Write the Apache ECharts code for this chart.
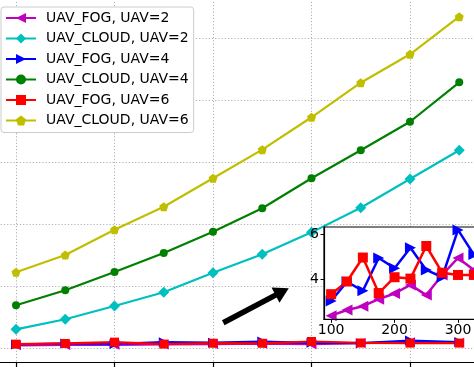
<!DOCTYPE html>
<html><head><meta charset="utf-8">
<script src="https://cdn.jsdelivr.net/npm/echarts@6/dist/echarts.min.js"></script>
<style>html,body{margin:0;padding:0;background:#fff}#c{width:474px;height:367px}</style>
</head><body><div id="c"></div>
<script>
// ---- data ----
const xValues = [100, 125, 150, 175, 200, 225, 250, 275, 300, 325];
const fogUav2   = [2.40, 2.65, 2.82, 3.13, 3.38, 3.76, 3.31, 4.20, 4.95, 4.42];
const cloudUav2 = [15.3, 23.4, 34.1, 45.2, 61.0, 75.8, 93.5, 113.4, 136.5, 159.7];
const fogUav4   = [3.05, 3.90, 3.50, 4.95, 4.50, 5.40, 4.42, 4.10, 6.19, 5.10];
const cloudUav4 = [34.7, 46.8, 61.5, 76.9, 94.0, 112.9, 137.1, 159.7, 182.7, 214.5];
const fogUav6   = [3.35, 3.91, 4.97, 3.40, 4.10, 4.04, 5.48, 4.30, 4.20, 4.20];
const cloudUav6 = [61.3, 75.2, 95.6, 114.2, 137.1, 160.2, 186.3, 214.2, 237.1, 267.4];
const seriesNames = ['UAV_FOG, UAV=2', 'UAV_CLOUD, UAV=2', 'UAV_FOG, UAV=4',
                     'UAV_CLOUD, UAV=4', 'UAV_FOG, UAV=6', 'UAV_CLOUD, UAV=6'];
const insetXTicks = [100, 200, 300];
const insetYTicks = [4, 6];
const arrowFrom = [205.2, 20.6];
const arrowTo = [235.1, 45.7];

// ---- styles ----
const FONT = 'DejaVu Sans';
const pentagon = 'path://M0,-1L0.951,-0.309L0.588,0.809L-0.588,0.809L-0.951,-0.309Z';
const styles = [
  {color: '#bf00bf', symbol: 'triangle', rot: 90, size: 10},
  {color: '#00bfbf', symbol: 'diamond', rot: 0, size: 11},
  {color: '#0000ff', symbol: 'triangle', rot: -90, size: 10},
  {color: '#008000', symbol: 'circle', rot: 0, size: 8},
  {color: '#ff0000', symbol: 'rect', rot: 0, size: 9},
  {color: '#bfbf00', symbol: pentagon, rot: 0, size: 9}
];
const allData = [fogUav2, cloudUav2, fogUav4, cloudUav4, fogUav6, cloudUav6];
const pairs = arr => xValues.map((x, i) => [x, arr[i]]);

function mk(i, xi, yi, z, extra) {
  const s = styles[i];
  return Object.assign({
    name: seriesNames[i], type: 'line', xAxisIndex: xi, yAxisIndex: yi, z: z,
    data: pairs(allData[i]), symbol: s.symbol, symbolRotate: s.rot, symbolSize: s.size,
    showAllSymbol: true,
    lineStyle: {color: s.color, width: 2.2}, itemStyle: {color: s.color},
    emphasis: {disabled: true}, animation: false
  }, extra || {});
}

const series = [];
for (let i = 0; i < 6; i++) {
  const extra = {};
  if (i === 5) {
    extra.markLine = {
      silent: true, symbol: ['none', 'triangle'], symbolSize: [17, 15],
      label: {show: false},
      lineStyle: {color: '#000', width: 5.5, type: 'solid'},
      data: [[{coord: arrowFrom}, {coord: arrowTo}]]
    };
  }
  series.push(mk(i, 0, 0, 2, extra));
}
[0, 2, 4].forEach(i => series.push(mk(i, 2, 2, 11, {clip: true, symbolSize: styles[i].size + 1, lineStyle: {color: styles[i].color, width: 2.5}})));

const dotted = {show: true, lineStyle: {color: '#b0b0b0', type: [1.2, 2], width: 1}};

const option = {
  animation: false,
  backgroundColor: '#fff',
  textStyle: {fontFamily: FONT},
  grid: [
    {left: -82.5, right: -34.5, top: -23.7, bottom: -43.3, containLabel: false, outerBoundsMode: 'none'},
    {left: -82.5, right: -34.5, top: 0, bottom: 5, containLabel: false, outerBoundsMode: 'none'},
    {left: 324, right: -7, top: 227, bottom: 47.7, containLabel: false, outerBoundsMode: 'none', z: 10,
     show: true, backgroundColor: '#fff', borderColor: '#000', borderWidth: 1.2}
  ],
  xAxis: [
    {type: 'value', gridIndex: 0, min: 50, max: 350, interval: 50,
     axisLine: {show: false}, axisTick: {show: false}, axisLabel: {show: false}, splitLine: dotted},
    {type: 'value', gridIndex: 1, min: 50, max: 350, interval: 50, z: 5,
     axisLine: {show: true, onZero: false, lineStyle: {color: '#000', width: 1.2}},
     axisTick: {show: true, length: 6, lineStyle: {color: '#000', width: 1.2}},
     axisLabel: {show: false}, splitLine: {show: false}},
    {type: 'value', gridIndex: 2, min: 88.75, max: 336.25, z: 12,
     axisLine: {show: true, onZero: false, lineStyle: {color: '#000', width: 1.2}},
     axisTick: {show: true, length: 3.5, customValues: insetXTicks, lineStyle: {color: '#000', width: 1}},
     axisLabel: {show: true, customValues: insetXTicks, margin: 4, fontSize: 14, color: '#000', fontFamily: FONT},
     splitLine: {show: false}}
  ],
  yAxis: [
    {type: 'value', gridIndex: 0, min: -50, max: 300, interval: 50,
     axisLine: {show: false}, axisTick: {show: false}, axisLabel: {show: false}, splitLine: dotted},
    {type: 'value', gridIndex: 1, show: false, min: 0, max: 1},
    {type: 'value', gridIndex: 2, min: 2.24, max: 6.32, z: 12,
     axisLine: {show: true, onZero: false, lineStyle: {color: '#000', width: 1.2}},
     axisTick: {show: true, length: 3.5, customValues: insetYTicks, lineStyle: {color: '#000', width: 1}},
     axisLabel: {show: true, customValues: insetYTicks, margin: 5, fontSize: 14, color: '#000', fontFamily: FONT},
     splitLine: {show: false}}
  ],
  legend: {
    data: seriesNames, orient: 'vertical', left: 1, top: 7,
    itemWidth: 30, itemHeight: 12.5, itemGap: 6.5,
    padding: [4, 5, 5, 4],
    backgroundColor: '#fff', borderColor: '#cccccc', borderWidth: 1, borderRadius: 3,
    textStyle: {fontFamily: FONT, fontSize: 14, color: '#000', padding: [0, 0, 0, 5]},
    selectedMode: false, z: 20
  },
  series: series
};
const chart = echarts.init(document.getElementById('c'), null, {renderer: 'canvas'});
chart.setOption(option);
</script>
</body></html>
